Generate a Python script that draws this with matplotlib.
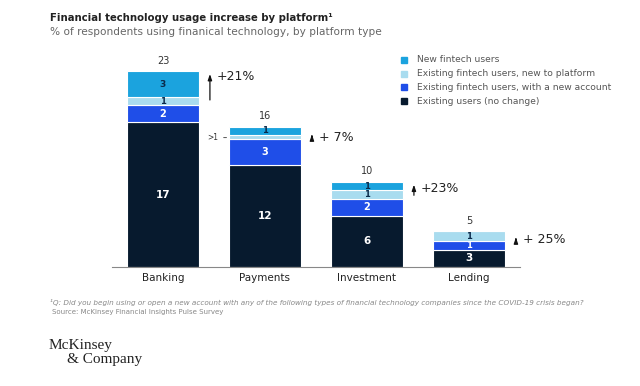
import matplotlib
matplotlib.use("Agg")
import matplotlib.pyplot as plt
import numpy as np

# data (heights as drawn, labels as printed)
platforms = ["Banking", "Payments", "Investment", "Lending"]
existing = [17, 12, 6, 2]
new_account = [2, 3, 2, 1]
new_platform = [1, 0.5, 1, 1.2]
new_users = [3, 1, 1, 0]
existing_lbl = ["17", "12", "6", "3"]
account_lbl = ["2", "3", "2", "1"]
platform_lbl = ["1", "", "1", "1"]
users_lbl = ["3", "1", "1", ""]
totals = ["23", "16", "10", "5"]
increase = ["+21%", "+ 7%", "+23%", "+ 25%"]
arrow_from = [19.3, 14.9, 8.1, 2.8]
arrow_to = [23.0, 15.9, 10.0, 3.8]
text_y = [22.4, 15.2, 9.2, 3.2]

c_users = "#1ba3de"
c_platform = "#a9dcef"
c_account = "#1f4ee8"
c_existing = "#071a2e"

plt.rcParams['font.family'] = ['DejaVu Sans']

fig = plt.figure(figsize=(6.4, 3.86), dpi=100)
ax = fig.add_axes([0.175, 0.3083, 0.6375, 0.5622])

x = np.arange(len(platforms))
w = 0.7
series = [
    (existing, c_existing, existing_lbl, "white", 7.5),
    (new_account, c_account, account_lbl, "white", 7),
    (new_platform, c_platform, platform_lbl, "#0b2a4a", 6),
    (new_users, c_users, users_lbl, "#0b2a4a", 6.5),
]
bottom = np.zeros(len(platforms))
for vals, col, lbls, tcol, fs in series:
    vals = np.array(vals, dtype=float)
    ax.bar(x, vals, w, bottom=bottom, color=col, edgecolor="white", linewidth=0.8)
    for i in range(len(x)):
        if lbls[i]:
            ax.text(x[i], bottom[i] + vals[i] / 2, lbls[i], ha="center", va="center",
                    color=tcol, fontsize=fs if vals[i] > 1.1 else 6, fontweight="bold")
    bottom += vals

for i in range(len(x)):
    ax.annotate(totals[i], (x[i], bottom[i]), xytext=(0, 4), textcoords="offset points",
                ha="center", va="bottom", fontsize=7, color="#333333")
    ax.annotate("", xy=(x[i] + 0.46, arrow_to[i]), xytext=(x[i] + 0.46, arrow_from[i]),
                arrowprops=dict(arrowstyle="-|>,head_length=0.35,head_width=0.12",
                                color="#111111", lw=0.9))
    ax.text(x[i] + 0.53, text_y[i], increase[i], ha="left", va="center",
            fontsize=9, color="#222222")

# ">1" callout for the thin Payments segment
ax.annotate(">1", xy=(x[1] - w / 2, 15.2), xytext=(x[1] - 0.46, 15.2),
            ha="right", va="center", fontsize=5.5, color="#333333",
            arrowprops=dict(arrowstyle="-", color="#333333", lw=0.6))

ax.set_xlim(-0.5, 3.5)
ax.set_ylim(0, 25.5)
ax.set_xticks(x)
ax.set_xticklabels(platforms, fontsize=7.5, color="#222222")
ax.tick_params(axis="x", length=0, pad=4)
ax.set_yticks([])
for s in ["top", "right", "left"]:
    ax.spines[s].set_visible(False)
ax.spines["bottom"].set_color("#888888")
ax.spines["bottom"].set_linewidth(0.8)

# legend
leg_items = [("New fintech users", c_users),
             ("Existing fintech users, new to platform", c_platform),
             ("Existing fintech users, with a new account", c_account),
             ("Existing users (no change)", c_existing)]
for k, (lab, col) in enumerate(leg_items):
    yy = 1 - (60 + 13.7 * k) / 386
    fig.patches.append(plt.Rectangle((401 / 640, yy - 3 / 386), 6 / 640, 6 / 386,
                                     transform=fig.transFigure, color=col))
    fig.text(417 / 640, yy, lab, fontsize=6.6, color="#555555", va="center")

fig.text(50 / 640, 1 - 18 / 386, "Financial technology usage increase by platform\u00b9",
         fontsize=7.3, fontweight="bold", color="#222222", va="center")
fig.text(50 / 640, 1 - 32 / 386, "% of respondents using finanical technology, by platform type",
         fontsize=7.6, color="#666666", va="center")

fig.text(50 / 640, 1 - 302 / 386,
         "\u00b9Q: Did you begin using or open a new account with any of the following types of "
         "financial technology companies since the COVID-19 crisis began?",
         fontsize=5.2, style="italic", color="#888888", va="center")
fig.text(52 / 640, 1 - 312 / 386, "Source: McKinsey Financial Insights Pulse Survey",
         fontsize=5.0, color="#888888", va="center")

fig.text(49 / 640, 1 - 345 / 386, "McKinsey", family="Liberation Serif", fontsize=11,
         color="#222222", va="center")
fig.text(67 / 640, 1 - 360 / 386, "& Company", family="Liberation Serif", fontsize=11,
         color="#222222", va="center")

fig.savefig("out.png", dpi=100, facecolor="white")
